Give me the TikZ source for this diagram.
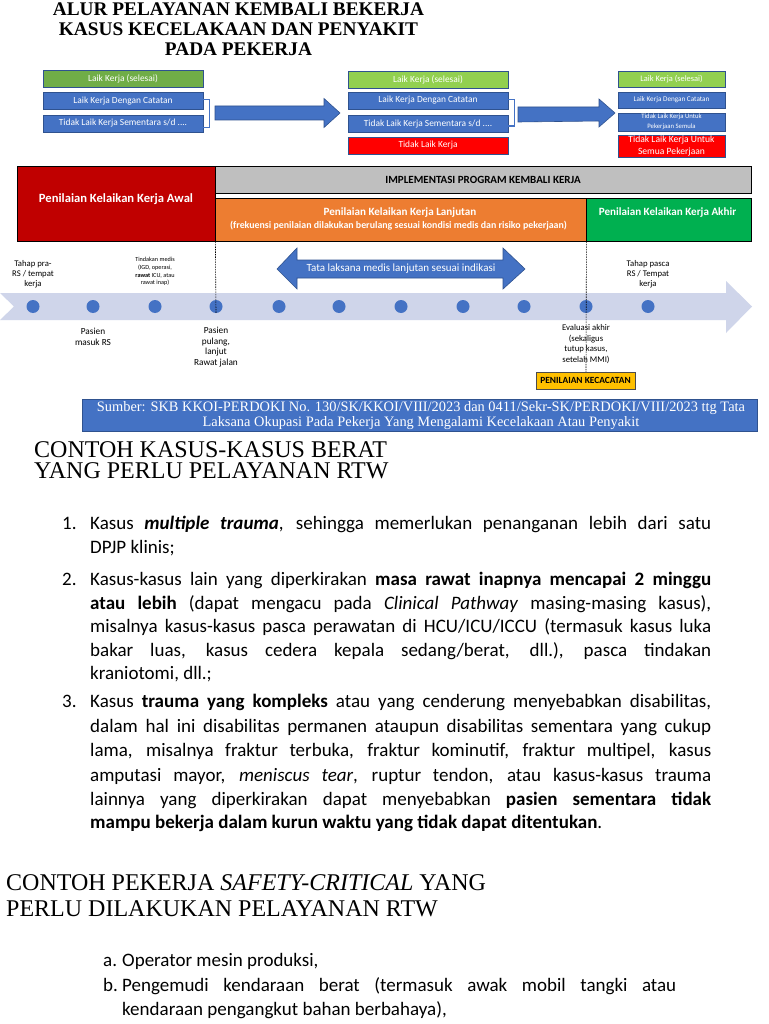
\documentclass[tikz,border=0pt]{standalone}
\usepackage{fontspec}
\setmainfont{Liberation Serif}
\newfontfamily\calfont{Carlito}
\usetikzlibrary{calc}
\definecolor{bfill}{HTML}{4472C4}
\definecolor{bdark}{HTML}{2F528F}
\definecolor{gdark}{HTML}{70AD47}
\definecolor{glight}{HTML}{92D050}
\definecolor{rbright}{HTML}{FF0000}
\definecolor{rdark}{HTML}{C00000}
\definecolor{gband}{HTML}{BFBFBF}
\definecolor{oband}{HTML}{ED7D31}
\definecolor{gbright}{HTML}{00B050}
\definecolor{lav}{HTML}{CFD5EA}
\definecolor{gold}{HTML}{FFC000}
\newcommand\fsz[1]{\fontsize{#1}{#1}\selectfont}
\newcommand\jl[2]{\makebox[#1][s]{#2}}
\tikzset{
  tbox/.style={draw=bdark, line width=0.7pt, inner sep=0pt, text=white, align=center},
  bandbox/.style={draw=black, line width=0.8pt, inner sep=0pt},
  bandtxt/.style={inner sep=0pt, text=white, font=\calfont\bfseries\fsz{11.1}},
  tl/.style={align=center, inner sep=0pt, text=black},
  tdot/.style={circle, fill=bfill, inner sep=0pt, minimum size=13pt},
  vdash/.style={draw=black, line width=0.6pt, dash pattern=on 1.5pt off 1pt},
  bodyt/.style={font=\calfont\fsz{19}, inner sep=0pt, anchor=base west},
  blockarrow/.style={fill=bfill, draw=bdark, line width=0.6pt},
  brk/.style={draw=bfill, line width=1.3pt},
  headt/.style={font=\fsz{24}, inner sep=0pt, anchor=base west, text height=16pt, text depth=0pt},
  titlet/.style={inner sep=0, anchor=base, font=\bfseries\fsz{19.3}, text height=12.5pt, text depth=0pt},
}
\begin{document}
\begin{tikzpicture}[x=1pt,y=-1pt]
\useasboundingbox (0,0) rectangle (768,1024);
\fill[white] (0,0) rectangle (768,1024);

% ---------- title ----------
\node[titlet] (t1) at (238.5,15.5) {ALUR PELAYANAN KEMBALI BEKERJA};
\node[titlet] (t2) at (238.5,35.5) {KASUS KECELAKAAN DAN PENYAKIT};
\node[titlet] (t3) at (238.5,55.5) {PADA PEKERJA};

% ---------- left column ----------
\begin{scope}[every node/.append style={font=\calfont\fsz{9.4}}]
\node[tbox, fill=gdark, minimum width=160pt, minimum height=17pt] (l1) at (123,78.5) {Laik Kerja (selesai)};
\node[tbox, fill=bfill, minimum width=160pt, minimum height=17.5pt] (l2) at (123,101) {Laik Kerja Dengan Catatan};
\node[tbox, fill=bfill, minimum width=160pt, minimum height=17pt] (l3) at (123,123.5) {Tidak Laik Kerja Sementara s/d ....};
% middle column
\node[tbox, fill=glight, minimum width=160pt, minimum height=17pt] (m1) at (428,79.5) {Laik Kerja (selesai)};
\node[tbox, fill=bfill, minimum width=160pt, minimum height=17pt] (m2) at (428,100.5) {Laik Kerja Dengan Catatan};
\node[tbox, fill=bfill, minimum width=160pt, minimum height=16.5pt] (m3) at (428,124) {Tidak Laik Kerja Sementara s/d ....};
\node[tbox, fill=rbright, minimum width=160pt, minimum height=17pt] (m4) at (428,145.5) {Tidak Laik Kerja};
\end{scope}
% right column
\node[tbox, fill=glight, minimum width=107pt, minimum height=16pt, font=\calfont\fsz{8.4}] (r1) at (671.5,79) {Laik Kerja (selesai)};
\node[tbox, fill=bfill, minimum width=107pt, minimum height=16pt, font=\calfont\fsz{7.2}] (r2) at (671.5,100) {Laik Kerja Dengan Catatan};
\node[tbox, fill=bfill, minimum width=107pt, minimum height=18pt, font=\calfont\fontsize{6.7}{9.5}\selectfont] (r3) at (671.5,122) {Tidak Laik Kerja Untuk\\Pekerjaan Semula};
\node[tbox, fill=rbright, minimum width=107pt, minimum height=22pt, font=\calfont\fontsize{9.6}{12.5}\selectfont] (r4) at (671.5,146) {Tidak Laik Kerja Untuk\\Semua Pekerjaan};

% brackets and block arrows
\draw[brk] (l2.east |- 0,99.5) -- (209.5,99.5) -- (209.5,127.5) -- (l3.east |- 0,127.5);
\coordinate (a1s) at (215,113);
\coordinate (a1t) at (340,113);
\draw[blockarrow] ($(a1s)+(0,-7)$) -- ($(a1t)+(-16,-7)$) -- ($(a1t)+(-16,-14.5)$) -- (a1t) -- ($(a1t)+(-16,14.5)$) -- ($(a1t)+(-16,7)$) -- ($(a1s)+(0,7)$) -- cycle;
\draw[brk] (m2.east |- 0,99.5) -- (514.5,99.5) -- (514.5,126) -- (m3.east |- 0,126);
\coordinate (a2s) at (518,114);
\coordinate (a2t) at (615,113);
\draw[blockarrow] ($(a2s)+(0,-7)$) -- ($(a2t)+(-16,-6)$) -- ($(a2t)+(-16,-14)$) -- (a2t) -- ($(a2t)+(-16,14)$) -- ($(a2t)+(-16,8)$) -- ($(a2s)+(0,8)$) -- cycle;

% ---------- bands ----------
\node[bandbox, fill=rdark, minimum width=198pt, minimum height=75pt] (awal) at (116,203.5) {};
\node[bandtxt, font=\calfont\bfseries\fsz{12.6}] (awalt) at (116,199) {Penilaian Kelaikan Kerja Awal};
\node[bandbox, fill=gband, minimum width=536pt, minimum height=27pt, font=\calfont\bfseries\fsz{11}] (impl) at (483,179.5) {IMPLEMENTASI PROGRAM KEMBALI KERJA};
\node[bandbox, fill=oband, minimum width=371pt, minimum height=43pt] (lanj) at (400.5,219.5) {};
\node[bandtxt] (lanjt1) at (400,212.5) {Penilaian Kelaikan Kerja Lanjutan};
\node[bandtxt, font=\calfont\bfseries\fsz{9.9}] (lanjt2) at (398.5,226) {(frekuensi penilaian dilakukan berulang sesuai kondisi medis dan risiko pekerjaan)};
\node[bandbox, fill=gbright, minimum width=165pt, minimum height=43pt] (akhir) at (668.5,219.5) {};
\node[bandtxt] (akhirt) at (667.5,213) {Penilaian Kelaikan Kerja Akhir};

% ---------- timeline ----------
\fill[lav] (0,293) -- (726,293) -- (726,281) -- (752,306.5) -- (726,333) -- (726,320) -- (0,320) -- (14,306.5) -- cycle;
\foreach \i/\x in {1/33,2/93,3/155,4/216,5/279,6/339,7/401,8/463,9/524,10/586,11/648}{
  \node[tdot] (d\i) at (\x,306.5) {};
}
\draw[vdash] (awal.south east) -- ($(d4)+(0,7)$);
\coordinate (kecTop) at (586,372);
\draw[vdash] (lanj.south east) -- (kecTop);

% double arrow
\coordinate (dal) at (277,269);
\coordinate (dar) at (525,269);
\draw[blockarrow] (dal) -- ($(dal)+(20,-21)$) -- ($(dal)+(20,-9)$) -- ($(dar)+(-22,-9)$) -- ($(dar)+(-22,-21)$) -- (dar) -- ($(dar)+(-22,20)$) -- ($(dar)+(-22,9)$) -- ($(dal)+(20,9)$) -- ($(dal)+(20,20)$) -- cycle;
\node[inner sep=0, text=white, font=\calfont\fsz{11}] (datxt) at (401,269) {Tata laksana medis lanjutan sesuai indikasi};

% timeline labels
\node[tl, font=\calfont\fontsize{8.7}{9.8}\selectfont] (lb1) at (33,274) {Tahap pra-\\RS / tempat\\kerja};
\node[tl, font=\calfont\fontsize{9.3}{11}\selectfont] (lb2) at (93,337) {Pasien\\masuk RS};
\node[tl, font=\calfont\fontsize{6.2}{7.7}\selectfont] (lb3) at (155,271.5) {Tindakan medis\\(IGD, operasi,\\\textbf{rawat} ICU, atau\\rawat inap)};
\node[tl, font=\calfont\fontsize{9.3}{10.5}\selectfont] (lb4) at (216,347) {Pasien\\pulang,\\lanjut\\Rawat jalan};
\node[tl, font=\calfont\fontsize{8.7}{10.4}\selectfont] (lb5) at (586,344) {Evaluasi akhir\\(sekaligus\\tutup kasus,\\setelah MMI)};
\node[tl, font=\calfont\fontsize{8.7}{9.8}\selectfont] (lb6) at (648,274) {Tahap pasca\\RS / Tempat\\kerja};
\node[draw=black!70, line width=0.7pt, fill=gold, inner sep=0pt, minimum width=99pt, minimum height=17pt, font=\calfont\bfseries\fsz{9.4}] (kec) at (585.5,380.5) {PENILAIAN KECACATAN};

% ---------- source ----------
\node[draw=bdark, fill=bfill, line width=0.6pt, minimum width=675pt, minimum height=32pt, inner sep=0] (src) at (419.5,415) {};
\node[inner sep=0, anchor=base, text=white, font=\fsz{14.4}] (src1) at (421,411) {Sumber: SKB KKOI-PERDOKI No. 130/SK/KKOI/VIII/2023 dan 0411/Sekr-SK/PERDOKI/VIII/2023 ttg Tata};
\node[inner sep=0, anchor=base, text=white, font=\fsz{14.4}] (src2) at (421,426.5) {Laksana Okupasi Pada Pekerja Yang Mengalami Kecelakaan Atau Penyakit};

% ---------- section 1 ----------
\node[inner sep=0, align=left, anchor=north west, font=\fontsize{24}{21}\selectfont] (h1) at (34,441) {CONTOH KASUS-KASUS BERAT\\YANG PERLU PELAYANAN RTW};

\node[bodyt] (n1) at (62,529.5) {1.};
\node[bodyt] (p1a) at (90,529.5) {\jl{621pt}{Kasus \textbf{\textit{multiple trauma}}, sehingga memerlukan penanganan lebih dari satu}};
\node[bodyt] (p1b) at (90,553.5) {DPJP klinis;};

\node[bodyt] (n2) at (62,585.5) {2.};
\node[bodyt] (p2a) at (90,585.5) {\jl{621pt}{Kasus-kasus lain yang diperkirakan \textbf{masa rawat inapnya mencapai 2 minggu}}};
\node[bodyt] (p2b) at (90,609) {\jl{621pt}{\textbf{atau lebih} (dapat mengacu pada \textit{Clinical Pathway} masing-masing kasus),}};
\node[bodyt] (p2c) at (90,632.5) {\jl{621pt}{misalnya kasus-kasus pasca perawatan di HCU/ICU/ICCU (termasuk kasus luka}};
\node[bodyt] (p2d) at (90,656) {\jl{621pt}{bakar luas, kasus cedera kepala sedang/berat, dll.), pasca tindakan}};
\node[bodyt] (p2e) at (90,679.5) {kraniotomi, dll.;};

\node[bodyt] (n3) at (62,707.5) {3.};
\node[bodyt] (p3a) at (90,707.5) {\jl{621pt}{Kasus \textbf{trauma yang kompleks} atau yang cenderung menyebabkan disabilitas,}};
\node[bodyt] (p3b) at (90,732) {\jl{621pt}{dalam hal ini disabilitas permanen ataupun disabilitas sementara yang cukup}};
\node[bodyt] (p3c) at (90,756.5) {\jl{621pt}{lama, misalnya fraktur terbuka, fraktur kominutif, fraktur multipel, kasus}};
\node[bodyt] (p3d) at (90,781) {\jl{621pt}{amputasi mayor, \textit{meniscus tear}, ruptur tendon, atau kasus-kasus trauma}};
\node[bodyt] (p3e) at (90,805) {\jl{621pt}{lainnya yang diperkirakan dapat menyebabkan \textbf{pasien sementara tidak}}};
\node[bodyt] (p3f) at (90,828) {\textbf{mampu bekerja dalam kurun waktu yang tidak dapat ditentukan}.};

% ---------- section 2 ----------
\node[headt] (h2a) at (6,890) {CONTOH PEKERJA \textit{SAFETY-CRITICAL} YANG};
\node[headt] (h2b) at (6,916) {PERLU DILAKUKAN PELAYANAN RTW};

\node[bodyt] (na) at (103,966.5) {a.};
\node[bodyt] (qa) at (122,966.5) {Operator mesin produksi,};
\node[bodyt] (nb) at (103,991) {b.};
\node[bodyt] (qb1) at (122,991) {\jl{554pt}{Pengemudi kendaraan berat (termasuk awak mobil tangki atau}};
\node[bodyt] (qb2) at (122,1015.5) {kendaraan pengangkut bahan berbahaya),};
\end{tikzpicture}
\end{document}
